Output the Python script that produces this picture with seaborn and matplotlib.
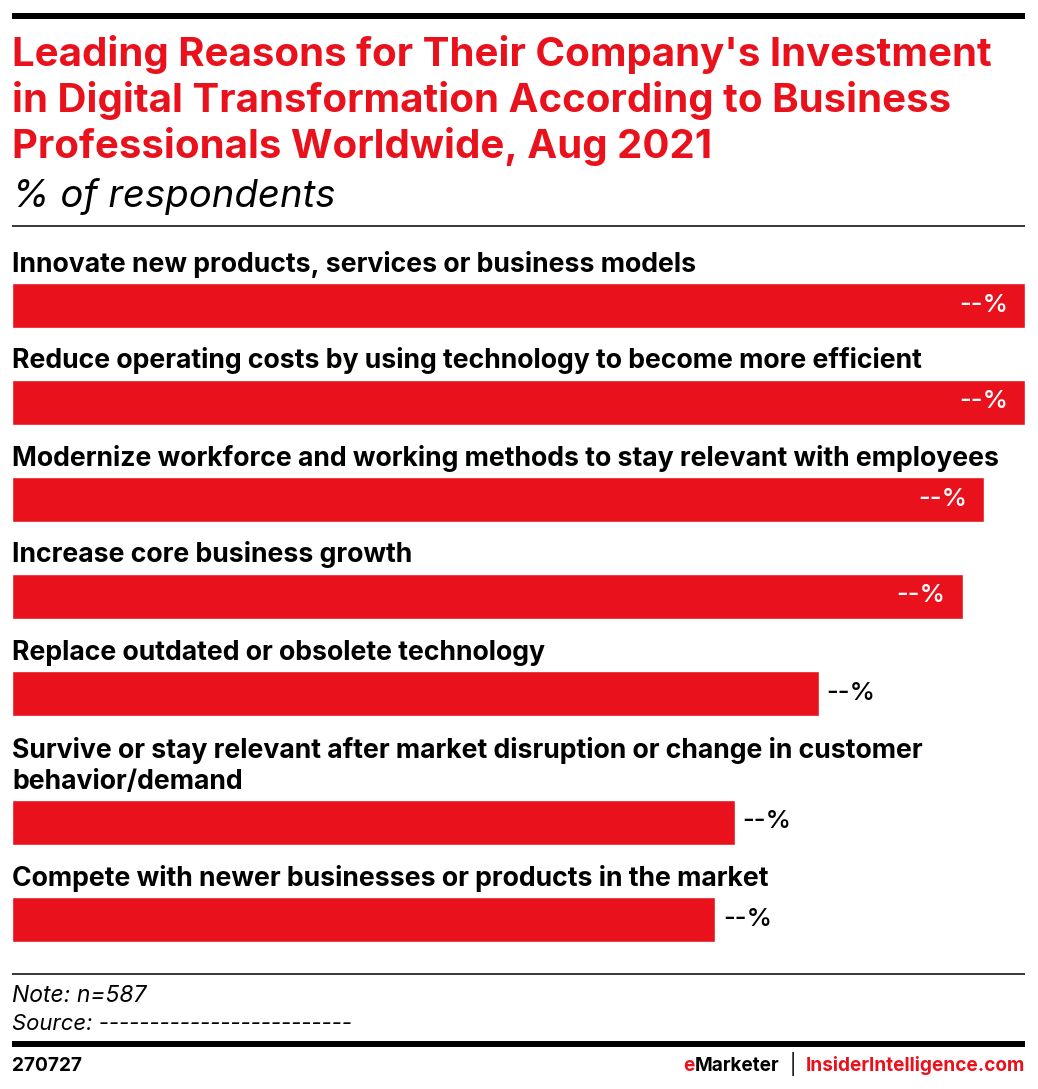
import numpy as np
import pandas as pd
import seaborn as sns
import matplotlib.pyplot as plt
from matplotlib.lines import Line2D

# chart data (values hidden in source as "--%", lengths)
reasons = [
    "Innovate new products, services or business models",
    "Reduce operating costs by using technology to become more efficient",
    "Modernize workforce and working methods to stay relevant with employees",
    "Increase core business growth",
    "Replace outdated or obsolete technology",
    "Survive or stay relevant after market disruption or change in customer\nbehavior/demand",
    "Compete with newer businesses or products in the market",
]
shares = [52.0, 52.0, 49.9, 48.8, 41.4, 37.1, 36.1]
share_labels = ["--%"] * 7

RED = "#E8111C"
W, H = 1038, 1089

sns.set_theme(style="white")
plt.rcParams["font.family"] = ["Inter", "DejaVu Sans"]

fig = plt.figure(figsize=(W / 100, H / 100), dpi=100)
ax = fig.add_axes([0, 0, 1, 1])

# layout in pixels: bar centres, with extra room for two-line labels
centres = []
y = 305
for r in reasons:
    if "\n" in r:
        y += 32
    centres.append(y)
    y += 97

vmax = max(shares)
k = vmax / 1013.0  # data units per pixel
df = pd.DataFrame({"reason": reasons, "share": shares, "pos": centres})
sns.barplot(data=df, x="share", y="pos", orient="y", native_scale=True,
            color=RED, saturation=1, width=45 / 97, ax=ax)
ax.set_xlim(-12 * k, (W - 12) * k)
ax.set_ylim(H, 0)
ax.axis("off")

for r, v, lab, c in zip(reasons, shares, share_labels, centres):
    ax.text(0, c - 22.5 - 11, r, ha="left", va="baseline", fontsize=19.2,
            fontweight="bold", color="black", linespacing=1.24)
    if v > 0.9 * vmax:
        ax.text(v - 17 * k, c, lab, ha="right", va="center", fontsize=18.5,
                color="white", fontweight="medium")
    else:
        ax.text(v + 8 * k, c, lab, ha="left", va="center", fontsize=18.5,
                color="black", fontweight="medium")

def px(x, y):
    return x / W, 1 - y / H

def hline(y, lw):
    fig.add_artist(Line2D([12 / W, 1025 / W], [1 - y / H] * 2, color="black",
                          lw=lw, solid_capstyle="butt"))

hline(16, 4.3)
hline(225.5, 1.1)
hline(973.5, 1.1)
hline(1043.7, 4.3)

fig.text(*px(12, 158), "Leading Reasons for Their Company's Investment\n"
         "in Digital Transformation According to Business\n"
         "Professionals Worldwide, Aug 2021",
         ha="left", va="baseline", fontsize=28.9, fontweight="bold", color=RED,
         linespacing=1.23)
fig.text(*px(12, 207), "% of respondents", ha="left", va="baseline",
         fontsize=27.6, style="italic", fontweight="normal", color="black")
fig.text(*px(12, 1002), "Note: n=587", ha="left", va="baseline", fontsize=16.5,
         style="italic", color="black")
fig.text(*px(12, 1030), "Source: -------------------------", ha="left",
         va="baseline", fontsize=15.9, style="italic", color="black")
fig.text(*px(12, 1071), "270727", ha="left", va="baseline", fontsize=13.7,
         fontweight="bold", color="black")
fig.text(*px(1025, 1071), "InsiderIntelligence.com", ha="right",
         va="baseline", fontsize=13.7, fontweight="bold", color=RED)
fig.text(*px(793, 1071), "|", ha="center", va="baseline",
         fontsize=13.7, color="black")
mk = fig.text(*px(779, 1071), "Marketer", ha="right", va="baseline",
              fontsize=13.7, fontweight="bold", color="black")
fig.canvas.draw()
bb = mk.get_window_extent()
fig.text(bb.x0 / W, 1 - 1071 / H, "e", ha="right", va="baseline",
         fontsize=13.7, fontweight="bold", color=RED)

fig.savefig("out.png", dpi=100)
